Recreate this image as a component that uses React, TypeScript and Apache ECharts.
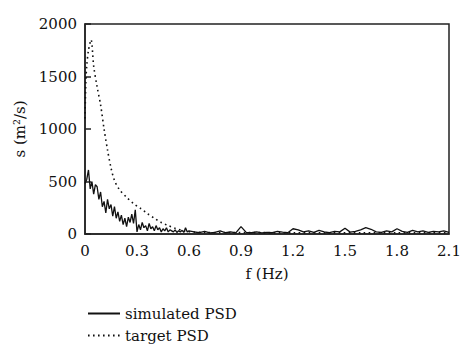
import React, { useEffect, useRef } from "react";
import * as echarts from "echarts";

const simFreq = [
  0, 0.01, 0.02, 0.03, 0.04, 0.05, 0.06, 0.07, 0.08, 0.09,
  0.1, 0.11, 0.12, 0.13, 0.14, 0.15, 0.16, 0.17, 0.18, 0.19,
  0.2, 0.21, 0.22, 0.23, 0.24, 0.25, 0.26, 0.27, 0.28, 0.29,
  0.3, 0.31, 0.32, 0.33, 0.34, 0.35, 0.36, 0.37, 0.38, 0.39,
  0.4, 0.41, 0.42, 0.43, 0.44, 0.45, 0.46, 0.47, 0.48, 0.49,
  0.5, 0.51, 0.52, 0.53, 0.54, 0.55, 0.56, 0.57, 0.58, 0.59,
  0.6, 0.63, 0.66, 0.69, 0.72, 0.75, 0.78, 0.81, 0.84, 0.87,
  0.9, 0.93, 0.96, 0.99, 1.02, 1.05, 1.08, 1.11, 1.14, 1.17,
  1.2, 1.23, 1.26, 1.29, 1.32, 1.35, 1.38, 1.41, 1.44, 1.47,
  1.5, 1.53, 1.56, 1.59, 1.62, 1.65, 1.68, 1.71, 1.74, 1.77,
  1.8, 1.83, 1.86, 1.89, 1.92, 1.95, 1.98, 2.01, 2.04, 2.07, 2.1,
];
const simValues = [
  480, 520, 610, 430, 500, 380, 470, 450, 330, 400,
  260, 310, 200, 330, 240, 280, 170, 260, 150, 210,
  120, 180, 90, 150, 70, 160, 110, 190, 100, 230,
  20, 90, 40, 110, 60, 80, 30, 100, 50, 70,
  30, 80, 40, 60, 20, 50, 30, 60, 20, 40,
  30, 20, 40, 15, 30, 20, 35, 15, 60, 20,
  30, 20, 12, 25, 10, 15, 30, 12, 20, 10,
  70, 15, 12, 20, 10, 15, 12, 25, 18, 12,
  50, 40, 20, 30, 15, 35, 20, 12, 25, 20,
  55, 18, 25, 40, 60, 45, 20, 15, 30, 20,
  50, 25, 15, 35, 20, 30, 15, 25, 20, 30, 15,
];

const targetFreq = [
  0, 0.005, 0.01, 0.02, 0.035, 0.05, 0.07, 0.09, 0.11, 0.13,
  0.15, 0.17, 0.2, 0.24, 0.28, 0.32, 0.36, 0.4, 0.44, 0.48,
  0.52, 0.56, 0.6, 0.7, 0.8, 1.0, 1.2, 1.4, 1.6, 1.8, 2.0, 2.1,
];
const targetValues = [
  1100, 1450, 1600, 1750, 1850, 1600, 1400, 1230, 1000, 800,
  630, 510, 420, 350, 290, 245, 195, 150, 110, 80,
  55, 35, 22, 15, 14, 13, 12, 12, 12, 12, 12, 12,
];

const xTicks = [0, 0.3, 0.6, 0.9, 1.2, 1.5, 1.8, 2.1];
const yTicks = [0, 500, 1000, 1500, 2000];
const seriesNames = ["simulated PSD", "target PSD"];

const FONT = "DejaVu Serif";

export default function App() {
  const ref = useRef<HTMLDivElement>(null);
  useEffect(() => {
    document.body.style.margin = "0";
    const chart = echarts.init(ref.current!, undefined, { renderer: "svg" });
    const sim = simFreq.map((f, i) => [f, simValues[i]]);
    const tgt = targetFreq.map((f, i) => [f, targetValues[i]]);
    chart.setOption({
      animation: false,
      backgroundColor: "#ffffff",
      textStyle: { fontFamily: FONT, color: "#111" },
      grid: {
        left: 85,
        right: 25,
        top: 24,
        bottom: 127,
        show: true,
        borderColor: "#222",
        borderWidth: 1.5,
        backgroundColor: "transparent",
      },
      legend: {
        orient: "vertical",
        left: 82,
        top: 301,
        itemWidth: 32,
        itemHeight: 12,
        itemGap: 7,
        data: seriesNames,
        itemStyle: { opacity: 0 },
        textStyle: { fontFamily: FONT, fontSize: 15, color: "#111" },
      },
      xAxis: {
        type: "value",
        min: 0,
        max: 2.1,
        interval: 0.3,
        name: "f (Hz)",
        nameLocation: "middle",
        nameGap: 32,
        nameTextStyle: { fontFamily: FONT, fontSize: 15, color: "#111" },
        axisLine: { lineStyle: { color: "#222", width: 1.5 } },
        axisTick: { show: false },
        splitLine: { show: false },
        axisLabel: {
          fontFamily: FONT,
          fontSize: 15,
          color: "#111",
          margin: 9,
          formatter: (v: number) => {
            const t = xTicks.find((x) => Math.abs(x - v) < 1e-6);
            return t === undefined ? "" : String(t);
          },
        },
      },
      yAxis: {
        type: "value",
        min: 0,
        max: 2000,
        interval: 500,
        name: "s (m²/s)",
        nameLocation: "middle",
        nameGap: 51,
        nameTextStyle: { fontFamily: FONT, fontSize: 15, color: "#111" },
        axisLine: { show: true, lineStyle: { color: "#222", width: 1.5 } },
        axisTick: { show: true, inside: true, length: 6, lineStyle: { color: "#222", width: 1.5 } },
        splitLine: { show: false },
        axisLabel: {
          fontFamily: FONT,
          fontSize: 15,
          color: "#111",
          margin: 8,
          formatter: (v: number) => {
            const t = yTicks.find((y) => y === v);
            return t === undefined ? "" : String(t);
          },
        },
      },
      series: [
        {
          name: seriesNames[0],
          type: "line",
          data: sim,
          symbol: "none",
          z: 3,
          lineStyle: { color: "#111", width: 1.3 },
          itemStyle: { color: "#111" },
        },
        {
          name: seriesNames[1],
          type: "line",
          data: tgt,
          symbol: "none",
          smooth: 0.3,
          z: 2,
          lineStyle: { color: "#111", width: 1.6, type: [1.6, 3.4] },
          itemStyle: { color: "#111" },
        },
      ],
    });
    return () => chart.dispose();
  }, []);
  return <div ref={ref} style={{ width: 474, height: 361 }} />;
}
